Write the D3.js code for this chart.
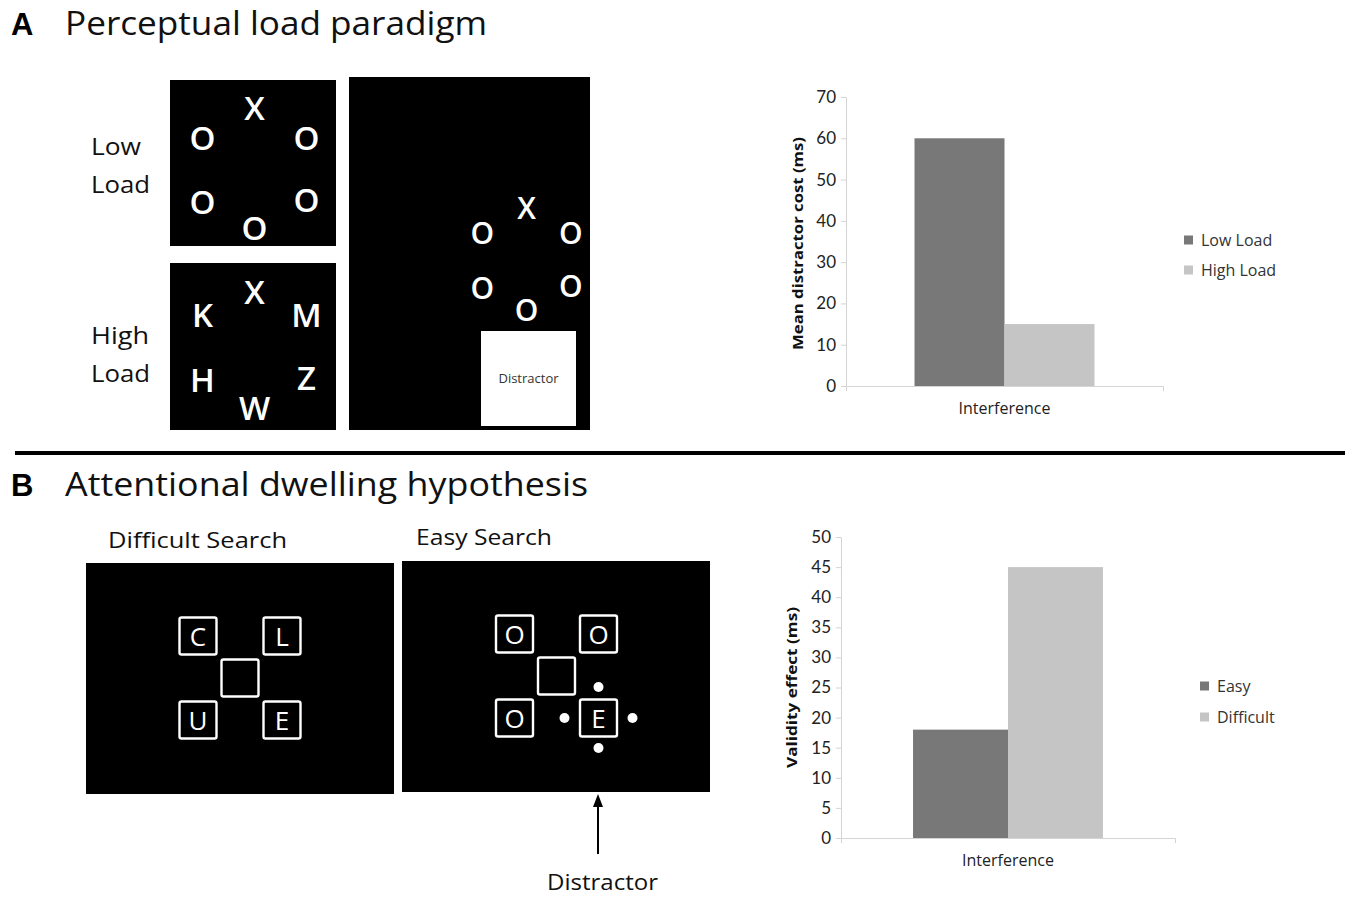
<!DOCTYPE html>
<html><head><meta charset="utf-8">
<script src="https://cdn.jsdelivr.net/npm/d3@7"></script>
<style>
html,body{margin:0;padding:0;background:#fff;}
svg text{font-family:"Open Sans",Lato,sans-serif;}
</style></head>
<body>
<svg id="c" width="1350" height="905"></svg>
<script>
// ---------- DATA ----------
const categories = ["Interference"];
const seriesA = ["Low Load", "High Load"];
const valuesA = [60, 15];
const ticksA = [0, 10, 20, 30, 40, 50, 60, 70];
const seriesB = ["Easy", "Difficult"];
const valuesB = [18, 45];
const ticksB = [0, 5, 10, 15, 20, 25, 30, 35, 40, 45, 50];
const barColors = ["#787878", "#c5c5c5"];

// stimulus letters (illustration)
const lowLoadLetters = ["X", "O", "O", "O", "O", "O"];
const highLoadLetters = ["X", "K", "M", "H", "Z", "W"];
const difficultLetters = ["C", "L", "U", "E"];
const easyLetters = ["O", "O", "O", "E"];

const svg = d3.select("#c");

function fitText(sel, len) { sel.attr("textLength", len).attr("lengthAdjust", "spacingAndGlyphs"); return sel; }

// ---------- Titles ----------
function title(letter, text, y, len) {
  svg.append("text").attr("x", 11).attr("y", y).text(letter)
    .style("font-family", "'Liberation Sans',Arial,sans-serif")
    .style("font-weight", "bold").style("font-size", "31px").attr("fill", "#000");
  fitText(svg.append("text").attr("x", 65).attr("y", y).text(text)
    .style("font-size", "32px").attr("fill", "#111"), len);
}
title("A", "Perceptual load paradigm", 35, 422);
title("B", "Attentional dwelling hypothesis", 496, 523);

// separator rule
svg.append("rect").attr("x", 15).attr("y", 451).attr("width", 1330).attr("height", 4).attr("fill", "#000");

// ---------- Panel A stimuli ----------
const gA = svg.append("g");
gA.append("rect").attr("x", 170).attr("y", 80).attr("width", 166).attr("height", 166).attr("fill", "#000");
gA.append("rect").attr("x", 170).attr("y", 263).attr("width", 166).attr("height", 167).attr("fill", "#000");
gA.append("rect").attr("x", 349).attr("y", 77).attr("width", 241).attr("height", 353).attr("fill", "#000");

const sideLabel = (lines, x, ys, lens) => lines.forEach((t, i) =>
  fitText(gA.append("text").attr("x", x).attr("y", ys[i]).text(t).style("font-size", "24px").attr("fill", "#111"), lens[i]));
sideLabel(["Low", "Load"], 91, [155, 193], [50, 59]);
sideLabel(["High", "Load"], 91, [344, 382], [58, 59]);

// pattern offsets (relative) for six-letter ring
const ringLow = [[0, -60], [-52, -30], [52, -30], [-52, 34], [52, 32], [0, 60]];
const ringHigh = [[0, -58], [-52, -35], [52, -35], [-52, 30], [52, 28], [0, 58]];
function drawRing(g, letters, offs, cx, cy, s, fs) {
  letters.forEach((L, i) => {
    g.append("text").attr("x", cx + offs[i][0] * s).attr("y", cy + offs[i][1] * s + fs * 0.36)
      .attr("text-anchor", "middle").text(L)
      .style("font-size", fs + "px").style("font-weight", 600).attr("fill", "#fff");
  });
}
drawRing(gA, lowLoadLetters, ringLow, 254.5, 168, 1, 33);
drawRing(gA, highLoadLetters, ringHigh, 254.5, 350, 1, 33);
drawRing(gA, lowLoadLetters, ringLow, 526.5, 259, 0.85, 30);

gA.append("rect").attr("x", 481).attr("y", 331).attr("width", 95).attr("height", 95).attr("fill", "#fff");
gA.append("text").attr("x", 528.5).attr("y", 383).attr("text-anchor", "middle").text("Distractor")
  .style("font-size", "13px").attr("fill", "#333");

// ---------- Panel B stimuli ----------
const gB = svg.append("g");
fitText(gB.append("text").attr("x", 108).attr("y", 548).text("Difficult  Search").style("font-size", "22px").attr("fill", "#111"), 179);
fitText(gB.append("text").attr("x", 416).attr("y", 545).text("Easy  Search").style("font-size", "22px").attr("fill", "#111"), 136);

function searchDisplay(x0, y0, w, h, letters, cx, cy) {
  gB.append("rect").attr("x", x0).attr("y", y0).attr("width", w).attr("height", h).attr("fill", "#000");
  const sz = 37, d = 42;
  const pos = [[-d, -d], [d, -d], [-d, d], [d, d]];
  pos.forEach((p, i) => {
    gB.append("rect").attr("x", cx + p[0] - sz / 2).attr("y", cy + p[1] - sz / 2)
      .attr("width", sz).attr("height", sz).attr("rx", 2)
      .attr("fill", "none").attr("stroke", "#fff").attr("stroke-width", 2.4);
    gB.append("text").attr("x", cx + p[0]).attr("y", cy + p[1] + 9.5)
      .attr("text-anchor", "middle").text(letters[i]).style("font-size", "26px").attr("fill", "#fff");
  });
  gB.append("rect").attr("x", cx - sz / 2).attr("y", cy - sz / 2).attr("width", sz).attr("height", sz).attr("rx", 2)
    .attr("fill", "none").attr("stroke", "#fff").attr("stroke-width", 2.4);
  return pos;
}
searchDisplay(86, 563, 308, 231, difficultLetters, 240, 678);
const pe = searchDisplay(402, 561, 308, 231, easyLetters, 556.5, 676);
// distractor dots around E
const ex = 556.5 + pe[3][0], ey = 676 + pe[3][1];
[[0, -31], [0, 30], [-34, 0], [34, 0]].forEach(o =>
  gB.append("circle").attr("cx", ex + o[0]).attr("cy", ey + o[1]).attr("r", 5).attr("fill", "#fff"));

// arrow
gB.append("line").attr("x1", 598).attr("x2", 598).attr("y1", 854).attr("y2", 803).attr("stroke", "#000").attr("stroke-width", 2);
gB.append("path").attr("d", "M598,794 L593,807 L603,807 Z").attr("fill", "#000");
fitText(gB.append("text").attr("x", 547).attr("y", 890).text("Distractor")
  .style("font-size", "22px").attr("fill", "#111"), 111);

// ---------- Bar charts ----------
function barChart(o) {
  const g = svg.append("g");
  const y = d3.scaleLinear().domain([o.ticks[0], o.ticks[o.ticks.length - 1]]).range([o.y0, o.y1]);
  const x = d3.scaleBand().domain(categories).range([o.x0, o.x1]).padding(o.pad);
  const xs = d3.scaleBand().domain(o.series).range([0, x.bandwidth()]);
  const color = d3.scaleOrdinal().domain(o.series).range(barColors);

  // y axis
  const ya = g.append("g").attr("transform", `translate(${o.x0},0)`)
    .call(d3.axisLeft(y).tickValues(o.ticks).tickSize(5).tickSizeOuter(0).tickPadding(5));
  ya.select(".domain").attr("stroke", "#d4d4d4");
  ya.selectAll(".tick line").attr("stroke", "#d4d4d4");
  ya.selectAll(".tick text").style("font-size", "17px").style("font-family", "Lato,sans-serif").attr("fill", "#222");

  // x axis
  const xa = g.append("g").attr("transform", `translate(0,${o.y0})`)
    .call(d3.axisBottom(x).tickSizeInner(0).tickSizeOuter(5).tickPadding(17));
  xa.select(".domain").attr("stroke", "#d4d4d4");
  xa.selectAll(".tick text").style("font-size", "16px").attr("fill", "#222");

  // bars
  categories.forEach((c) => {
    o.series.forEach((s, si) => {
      g.append("rect")
        .attr("x", x(c) + xs(s)).attr("width", xs.bandwidth())
        .attr("y", y(o.values[si])).attr("height", y(0) - y(o.values[si]))
        .attr("fill", color(s));
    });
  });

  // y label
  fitText(g.append("text").attr("transform", `translate(${o.labX},${(o.y0 + o.y1) / 2 + o.labDy}) rotate(-90)`)
    .attr("text-anchor", "middle").text(o.ylabel)
    .style("font-size", "15px").style("font-weight", "bold").attr("fill", "#111"), o.labLen);

  // legend
  o.series.forEach((s, i) => {
    const ly = o.legY + i * o.legGap;
    g.append("rect").attr("x", o.legX).attr("y", ly - 4.5).attr("width", 9).attr("height", 9).attr("fill", color(s));
    g.append("text").attr("x", o.legX + 17).attr("y", ly + 5.5).text(s).style("font-size", "16px").attr("fill", "#333");
  });
}

barChart({ series: seriesA, values: valuesA, ticks: ticksA, x0: 846, x1: 1163, y0: 386, y1: 97, pad: 0.2757,
  ylabel: "Mean distractor cost (ms)", labX: 803, labDy: 2, labLen: 213, legX: 1184, legY: 240, legGap: 30 });
barChart({ series: seriesB, values: valuesB, ticks: ticksB, x0: 841, x1: 1175, y0: 838, y1: 537, pad: 0.275,
  ylabel: "Validity effect (ms)", labX: 797, labDy: 0, labLen: 161, legX: 1200, legY: 686, legGap: 31 });
</script>
</body></html>
